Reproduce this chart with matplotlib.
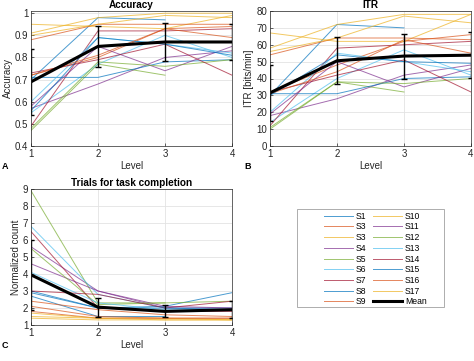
import numpy as np
import matplotlib
matplotlib.use('Agg')
import matplotlib.pyplot as plt
from matplotlib.patches import Rectangle

levels = [1, 2, 3, 4]
subjects = ['S1', 'S3', 'S3', 'S4', 'S5', 'S6', 'S7', 'S8', 'S9',
            'S10', 'S11', 'S12', 'S13', 'S14', 'S15', 'S16', 'S17']
nan = np.nan

accuracy = [
    [0.70, 0.98, 0.97, nan],
    [0.72, 0.80, 0.93, 0.94],
    [0.95, 0.94, 0.93, 0.99],
    [0.57, 0.68, 0.80, 0.83],
    [0.47, 0.77, 0.72, nan],
    [0.55, 0.77, 0.90, 0.80],
    [0.49, 0.92, 0.92, 0.93],
    [0.71, 0.71, 0.78, 0.79],
    [0.88, 0.95, 0.95, 0.95],
    [0.91, 0.98, 1.00, 1.00],
    [0.58, 0.85, 0.74, 0.85],
    [0.48, 0.78, 0.76, 0.79],
    [0.60, 0.89, 0.86, 0.82],
    [0.73, 0.79, 0.86, 0.72],
    [0.56, 0.89, 0.86, 0.81],
    [0.72, 0.81, 0.93, 0.89],
    [0.90, 0.95, 0.99, 0.98],
]
acc_mean = [0.69, 0.85, 0.87, 0.87]
acc_sd = [0.148, 0.092, 0.085, 0.083]

itr = [
    [30, 72, 70, nan],
    [32, 48, 62, 66],
    [67, 62, 62, 78],
    [18, 28, 42, 48],
    [10, 38, 32, nan],
    [14, 40, 57, 42],
    [12, 58, 60, 62],
    [31, 31, 40, 41],
    [54, 64, 64, 63],
    [58, 72, 78, 78],
    [19, 50, 35, 46],
    [11, 38, 37, 40],
    [20, 55, 50, 44],
    [32, 42, 51, 32],
    [30, 54, 50, 49],
    [31, 44, 63, 55],
    [56, 64, 77, 73],
]
itr_mean = [31.5, 50.5, 53.3, 53.8]
itr_sd = [16.5, 14.0, 13.3, 13.5]

trials = [
    [2.7, 1.5, 1.5, nan],
    [2.1, 1.5, 1.4, 1.4],
    [1.5, 1.4, 1.4, 1.3],
    [5.6, 3.0, 2.0, 2.0],
    [8.9, 2.3, 2.3, nan],
    [6.8, 2.8, 2.0, 2.0],
    [6.5, 2.0, 1.8, 1.8],
    [3.0, 2.0, 2.1, 2.9],
    [1.8, 1.4, 1.4, 1.4],
    [1.4, 1.3, 1.3, 1.3],
    [4.6, 3.0, 2.1, 2.0],
    [5.5, 2.2, 2.3, 2.4],
    [4.1, 2.3, 1.9, 1.9],
    [3.0, 2.8, 2.0, 2.4],
    [2.9, 2.0, 2.0, 1.9],
    [2.4, 1.9, 1.6, 1.5],
    [1.7, 1.4, 1.3, 1.3],
]
trials_mean = [3.95, 2.05, 1.8, 1.9]
trials_sd = [2.05, 0.55, 0.35, 0.5]

# MATLAB default colour order
mcolors = ['#0072BD', '#D95319', '#EDB120', '#7E2F8E', '#77AC30', '#4DBEEE', '#A2142F']

plt.rcParams['font.family'] = 'Liberation Sans'
plt.rcParams['font.size'] = 7

fig = plt.figure(figsize=(4.74, 3.61), dpi=100)
W, H = 474, 361


def add_ax(x0, y0, x1, y1):
    return fig.add_axes([x0 / W, 1 - y1 / H, (x1 - x0) / W, (y1 - y0) / H])


def panel(ax, data, mean, sd, title, ylabel, ylim, yticks, ytl=None):
    handles = []
    for i, row in enumerate(data):
        h, = ax.plot(levels, row, color=mcolors[i % 7], lw=0.7, alpha=0.7)
        handles.append(h)
    ax.errorbar(levels, mean, yerr=sd, color='black', lw=2.2,
                elinewidth=1.0, capsize=2.5, capthick=1.0)
    ax.set_xlim(1, 4)
    ax.set_ylim(*ylim)
    ax.set_xticks(levels)
    ax.set_yticks(yticks)
    if ytl is not None:
        ax.set_yticklabels(ytl)
    ax.grid(True, color='#e3e3e3', lw=0.6)
    ax.set_axisbelow(True)
    ax.tick_params(direction='in', length=2.5, width=0.5, colors='#262626',
                   labelsize=7, pad=2)
    for s in ax.spines.values():
        s.set_color('#262626')
        s.set_linewidth(0.5)
    ax.set_title(title, fontweight='bold', fontsize=7.2, pad=2)
    ax.set_xlabel('Level', labelpad=1.5, color='#262626')
    ax.set_ylabel(ylabel, labelpad=1.5, color='#262626')
    return handles


axA = add_ax(31, 11, 232, 146)
panel(axA, accuracy, acc_mean, acc_sd, 'Accuracy', 'Accuracy', (0.4, 1.01),
      [0.4, 0.5, 0.6, 0.7, 0.8, 0.9, 1.0],
      ['0.4', '0.5', '0.6', '0.7', '0.8', '0.9', '1'])

axB = add_ax(270, 11, 471, 146)
panel(axB, itr, itr_mean, itr_sd, 'ITR', 'ITR [bits/min]', (0, 80),
      range(0, 81, 10))

axC = add_ax(31, 189, 232, 325)
handles = panel(axC, trials, trials_mean, trials_sd, 'Trials for task completion',
                'Normalized count', (1, 9), range(1, 10))

fig.text(2 / W, 1 - 166 / H, 'A', fontweight='bold', fontsize=6.5, va='center')
fig.text(244 / W, 1 - 166 / H, 'B', fontweight='bold', fontsize=6.5, va='center')
fig.text(2 / W, 1 - 346 / H, 'C', fontweight='bold', fontsize=6.5, va='center')

# legend box (MATLAB style, wide left margin)
fig.patches.append(Rectangle((297 / W, 1 - 307 / H), 147 / W, 98 / H,
                             transform=fig.transFigure, fill=False,
                             edgecolor='#a0a0a0', lw=0.6))
mean_handle = plt.Line2D([], [], color='black', lw=2.2)
fig.legend(handles + [mean_handle], subjects + ['Mean'], ncol=2,
           loc='upper left', bbox_to_anchor=(322 / W, 1 - 210 / H),
           fontsize=6.2, frameon=False, handlelength=3.4,
           handletextpad=0.3, columnspacing=0.8, labelspacing=0.2,
           borderpad=0.2, borderaxespad=0)

fig.savefig('out.png', dpi=100)
